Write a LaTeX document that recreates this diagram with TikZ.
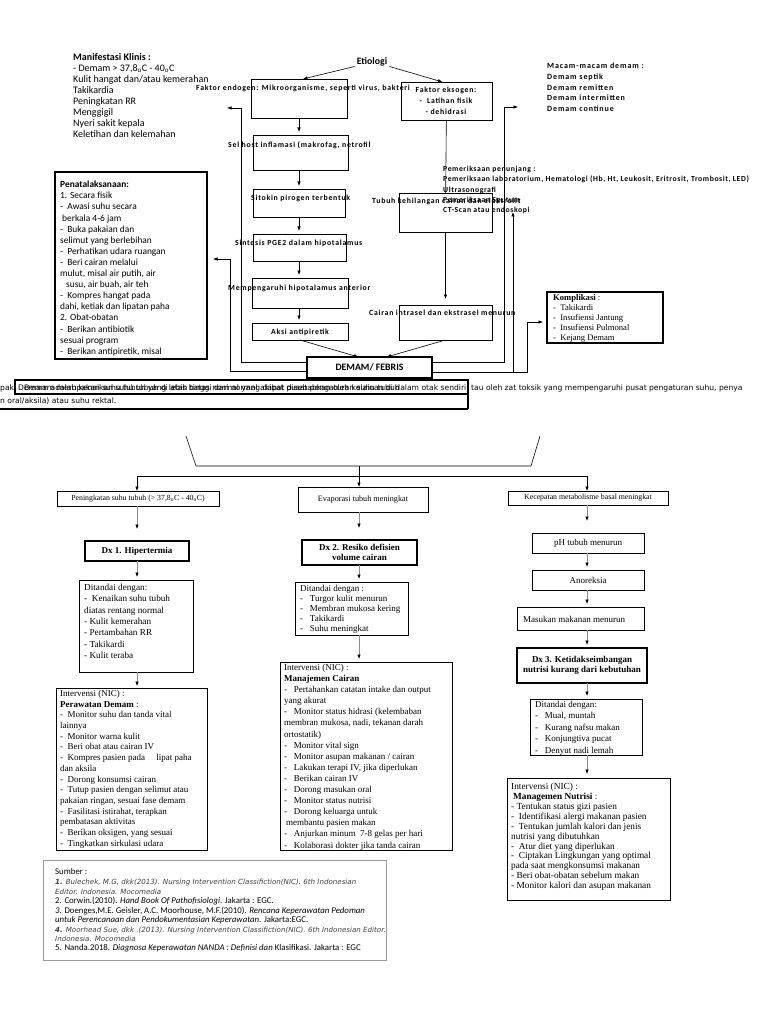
\documentclass[tikz,border=0pt]{standalone}
\usepackage{fontspec}
\setmainfont{Liberation Serif}
\newfontfamily\carl{Carlito}
\newfontfamily\carlsp{Carlito}[LetterSpace=9.5]
\newfontfamily\carlmc{Carlito}[LetterSpace=11]
\newfontfamily\carlpm{Carlito}[LetterSpace=7.5]
\newfontfamily\dvs{DejaVu Sans}
\usetikzlibrary{arrows.meta}
\tikzset{
  bx/.style={draw, line width=0.8pt, inner sep=0pt, outer sep=0pt},
  bxk/.style={draw, line width=1.8pt, inner sep=0pt, outer sep=0pt},
  lbl/.style={inner sep=0pt, anchor=west, font=\carlsp\bfseries\fontsize{7.8}{9}\selectfont},
  txt/.style={inner sep=0pt, anchor=north west, align=left},
  ln/.style={line width=0.6pt},
  arr/.style={line width=0.6pt, -{Latex[length=4.5pt,width=3.5pt]}},
  garr/.style={draw=black!45, line width=0.6pt, -{Latex[length=4.5pt,width=3.5pt,color=black]}},
  gln/.style={draw=black!45, line width=0.6pt},
  bl/.style={inner sep=0pt, anchor=base west},
}
\newcommand\bxr[7][bx]{\node[#1, minimum width={(#5-#3)*1pt}, minimum height={(#6-#4)*1pt}] (#2) at ({(#3+#5)/2},{(#4+#6)/2}) {#7};}
\newcommand\ind[1]{\hspace*{#1pt}}
\begin{document}
\begin{tikzpicture}[x=1pt,y=-1pt]
\useasboundingbox (0,0) rectangle (768,1024);
\fill[white] (0,0) rectangle (768,1024);

% ---------- top left
\node[txt, font=\carl\fontsize{10}{11}\selectfont] (manif) at (73,53) {\textbf{Manifestasi Klinis :}\\- Demam > 37,8\textsubscript{o}C - 40\textsubscript{o}C\\Kulit hangat dan/atau kemerahan\\Takikardia\\Peningkatan RR\\Menggigil\\Nyeri sakit kepala\\Keletihan dan kelemahan};

\node[inner sep=0pt, font=\carl\bfseries\fontsize{9.8}{11}\selectfont] (etio) at (372,62) {Etiologi};

\bxr{endo}{251}{79}{347}{118}{}
\node[lbl] (endoL) at (196,88) {Faktor endogen: Mikroorganisme, seperti virus, bakteri};
\bxr{ekso}{401}{82}{492}{120}{}
\node[lbl, anchor=center, align=center, font=\carlsp\bfseries\fontsize{7.8}{11}\selectfont] (eksoL) at (446,101) {Faktor eksogen:\\-\ \ Latihan fisik\\- dehidrasi};
\draw[arr] ([xshift=-2pt]etio.south west) -- ([xshift=4pt]endo.north);
\draw[arr] ([xshift=2pt]etio.south east) -- ([xshift=-4pt]ekso.north);

% chain
\bxr{b2}{253}{135}{348}{170}{}
\node[lbl] (b2L) at (228,145) {Sel host inflamasi (makrofag, netrofil};
\bxr{b3}{253}{189}{345}{217}{}
\node[lbl] (b3L) at (251,198) {Sitokin pirogen terbentuk};
\bxr{b4}{253}{234}{346}{261}{}
\node[lbl] (b4L) at (235,243) {Sintesis PGE2 dalam hipotalamus};
\bxr{b5}{252}{278}{348}{308}{}
\node[lbl] (b5L) at (228,288) {Mempengaruhi hipotalamus anterior};
\bxr{b6}{252}{323}{348}{340}{}
\node[lbl, anchor=center] (b6L) at (300,332) {Aksi antipiretik};
\coordinate (cx) at (299,0);
\draw[arr, shorten >=3pt] (endo.south -| cx) -- (b2.north -| cx);
\draw[arr, shorten >=3pt] (b2.south -| cx) -- (b3.north -| cx);
\draw[arr, shorten >=3pt] (b3.south -| cx) -- (b4.north -| cx);
\draw[arr, shorten >=3pt] (b4.south -| cx) -- (b5.north -| cx);
\draw[arr, shorten >=3pt] (b5.south -| cx) -- (b6.north -| cx);

\bxr[bxk, font=\carl\bfseries\fontsize{9.8}{11}\selectfont]{demam}{307}{357}{432}{378}{DEMAM/ FEBRIS}

\bxr{tubuh}{399}{193}{492}{232}{}
\bxr{cairan}{399}{305}{492}{340}{}
\draw[ln] (ekso) -- (tubuh);
\draw[arr, shorten >=6pt] (tubuh) -- (cairan);
\node[lbl] (tubuhL) at (372,201) {Tubuh kehilangan cairan dan elektrolit};
\node[lbl] (cairanL) at (369,313) {Cairan intrasel dan ekstrasel menurun};
\draw[arr] (b6.south) -- ([xshift=-11pt]demam.north);
\draw[arr] (cairan.south) -- ([xshift=17pt]demam.north);

% penatalaksanaan
\bxr[bxk]{pen}{55}{172}{207}{359}{}
\node[txt, font=\carl\fontsize{9.4}{11.1}\selectfont] (penT) at (60,181) {\textbf{Penatalaksanaan:}\\1. Secara fisik\\-\ \ Awasi suhu secara\\\ind{2}berkala 4-6 jam\\-\ \ Buka pakaian dan\\selimut yang berlebihan\\-\ \ Perhatikan udara ruangan\\-\ \ Beri cairan melalui\\mulut, misal air putih, air\\\ind{6}susu, air buah, air teh\\-\ \ Kompres hangat pada\\dahi, ketiak dan lipatan paha\\2. Obat-obatan\\-\ \ Berikan antibiotik\\sesuai program\\-\ \ Berikan antipiretik, misal};

% macam & pemeriksaan
\node[txt, font=\carlmc\bfseries\fontsize{8}{10.6}\selectfont] (macam) at (547,63) {Macam-macam demam :\\Demam septik\\Demam remitten\\Demam intermitten\\Demam continue};
\node[txt, font=\carlpm\bfseries\fontsize{7.7}{10.2}\selectfont] (pem) at (443,166) {Pemeriksaan penunjang :\\Pemeriksaan laboratorium, Hematologi (Hb, Ht, Leukosit, Eritrosit, Trombosit, LED)\\Ultrasonografi\\Pemeriksaan Sputum\\CT-Scan atau endoskopi};

% komplikasi
\bxr[bx, line width=1.2pt]{komp}{547}{292}{663}{343}{}
\node[txt, font=\fontsize{8.6}{9.9}\selectfont] (kompT) at (553,294.5) {\textbf{Komplikasi} :\\-\ \ Takikardi\\-\ \ Insufiensi Jantung\\-\ \ Insufiensi Pulmonal\\-\ \ Kejang Demam};

% loops
\coordinate (aMk) at (227,108);
\coordinate (aPen) at (213,259);
\coordinate (aMac) at (518,107);
\coordinate (aKom) at (543,322);
\coordinate (aPem) at (513,212);
\coordinate (dE2) at ([yshift=-5pt]demam.east);
\draw[arr] ([yshift=5pt]demam.west) -| (241,108) -- (aMk);
\draw[arr] ([yshift=-4pt]demam.west) -| (230,259) -- (aPen);
\draw[arr] ([yshift=5pt]demam.east) -| (504,107) -- (aMac);
\draw[arr] (dE2) -| (527,322) -- (aKom);
\draw[arr] (dE2 -| aPem) -- (aPem);

% ---------- band
\bxr[bx, line width=1.2pt]{band1}{15}{380}{468}{394}{}
\draw[line width=2.2pt] (0,409) -- (468,409);
\draw[line width=1.2pt] (band1.south east) -- (468,409);
\begin{scope}
\clip (16,381) rectangle (467,393);
\node[bl, font=\dvs\fontsize{7.6}{9}\selectfont] (bandA) at (18,390) {Demam adalah kenaikan suhu tubuh di atas batas normal yang dapat disebabkan oleh kelainan di dalam otak sendiri};
\node[bl, font=\dvs\fontsize{7.6}{9}\selectfont] (bandB) at (24,390.5) {Demam merupakan suhu tubuh yang lebih tinggi dari normal akibat pusat pengaturan suhu tubuh};
\end{scope}
\node[bl, font=\dvs\fontsize{7.6}{9}\selectfont] (bandC) at (0,390) {pak};
\node[bl, font=\dvs\fontsize{7.6}{9}\selectfont] (bandD) at (471,390) {tau oleh zat toksik yang mempengaruhi pusat pengaturan suhu, penya};
\node[bl, font=\dvs\fontsize{7.6}{9}\selectfont] (bandE) at (0,403) {n oral/aksila) atau suhu rektal.};

% ---------- middle branch
\coordinate (bl1) at (186,436);
\coordinate (bl2) at (196,466);
\coordinate (br2) at (531,466);
\coordinate (br1) at (540,436);
\draw[ln] (bl1) -- (bl2) -- (br2) -- (br1);
\coordinate (cL) at (137,0);
\coordinate (cM) at (359,0);
\coordinate (cR) at (587,0);
\coordinate (barY) at (0,476);
\draw[ln] (bl2 -| cM) -- (barY -| cM);
\draw[ln] (barY -| cL) -- (barY -| cR);

\bxr[bx, font=\fontsize{7.8}{9}\selectfont]{p1}{57}{491}{219}{506}{Peningkatan suhu tubuh (> 37,8\textsubscript{o}C - 40\textsubscript{o}C)}
\bxr[bx, font=\fontsize{8.2}{9}\selectfont]{p2}{298}{487}{428}{512}{Evaporasi tubuh meningkat}
\bxr[bx, font=\fontsize{7.8}{9}\selectfont]{p3}{508}{491}{668}{505}{Kecepatan metabolisme basal meningkat}
\draw[arr] (barY -| cL) -- (p1.north -| cL);
\draw[arr] (barY -| cM) -- (p2.north -| cM);
\draw[arr] (barY -| cR) -- (p3.north -| cR);

% left column
\bxr[bxk, font=\fontsize{9}{10}\selectfont\bfseries]{d1}{85}{541}{189}{561}{Dx 1. Hipertermia}
\bxr{t1}{79}{580}{193}{672}{}
\bxr{i1}{56}{688}{207}{850}{}
\draw[garr, shorten >=12pt] (p1.south -| cL) -- (d1.north -| cL);
\draw[garr, shorten >=3pt] (d1.south -| cL) -- (t1.north -| cL);
\draw[garr, shorten >=2pt] (t1.south -| cL) -- (i1.north -| cL);
\node[txt, font=\fontsize{9.2}{11.3}\selectfont] (t1T) at (84,584) {Ditandai dengan:\\-\ \ Kenaikan suhu tubuh\\diatas rentang normal\\-\ Kulit kemerahan\\-\ Pertambahan RR\\-\ Takikardi\\-\ Kulit teraba};
\node[txt, font=\fontsize{9}{10.7}\selectfont] (i1T) at (60,690) {Intervensi (NIC) :\\\textbf{Perawatan Demam} :\\-\ \ Monitor suhu dan tanda vital\\lainnya\\-\ \ Monitor warna kulit\\-\ \ Beri obat atau cairan IV\\-\ \ Kompres pasien pada\ \ \ \ \ lipat paha\\dan aksila\\-\ \ Dorong konsumsi cairan\\-\ \ Tutup pasien dengan selimut atau\\pakaian ringan, sesuai fase demam\\-\ \ Fasilitasi istirahat, terapkan\\pembatasan aktivitas\\-\ \ Berikan oksigen, yang sesuai\\-\ \ Tingkatkan sirkulasi udara};

% middle column
\bxr[bxk, align=center, font=\fontsize{9}{10.5}\selectfont\bfseries]{d2}{302}{540}{417}{565}{Dx 2. Resiko defisien\\volume cairan}
\bxr{t2}{295}{582}{408}{635}{}
\bxr{i2}{280}{662}{452}{850}{}
\draw[garr, shorten >=12pt] (p2.south -| cM) -- (d2.north -| cM);
\draw[garr, shorten >=3pt] (d2.south -| cM) -- (t2.north -| cM);
\draw[garr, shorten >=3pt] (t2.south -| cM) -- (i2.north -| cM);
\node[txt, font=\fontsize{9}{10}\selectfont] (t2T) at (300,585) {Ditandai dengan :\\-\ \ \ Turgor kulit menurun\\-\ \ \ Membran mukosa kering\\-\ \ \ Takikardi\\-\ \ \ Suhu meningkat};
\node[txt, font=\fontsize{9}{11.1}\selectfont] (i2T) at (284,664) {Intervensi (NIC) :\\\textbf{Manajemen Cairan}\\-\ \ \ Pertahankan catatan intake dan output\\yang akurat\\-\ \ \ Monitor status hidrasi (kelembaban\\membran mukosa, nadi, tekanan darah\\ortostatik)\\-\ \ \ Monitor vital sign\\-\ \ \ Monitor asupan makanan / cairan\\-\ \ \ Lakukan terapi IV, jika diperlukan\\-\ \ \ Berikan cairan IV\\-\ \ \ Dorong masukan oral\\-\ \ \ Monitor status nutrisi\\-\ \ \ Dorong keluarga untuk\\\ind{2}membantu pasien makan\\-\ \ \ Anjurkan minum\ \ 7-8 gelas per hari\\-\ \ \ Kolaborasi dokter jika tanda cairan};

% right column
\bxr[bx, font=\fontsize{9}{10}\selectfont]{r1}{532}{533}{644}{553}{pH tubuh menurun}
\bxr[bx, font=\fontsize{9}{10}\selectfont]{r2}{532}{570}{644}{590}{Anoreksia}
\bxr{r3}{517}{607}{644}{630}{}
\node[bl, font=\fontsize{9}{10}\selectfont] (r3T) at (523,622) {Masukan makanan menurun};
\bxr[bxk, align=center, font=\fontsize{9}{10.5}\selectfont\bfseries]{d3}{517}{648}{647}{683}{Dx 3. Ketidakseimbangan\\nutrisi kurang dari kebutuhan}
\bxr{t3}{530}{699}{642}{755}{}
\bxr{i3}{507}{778}{670}{900}{}
\draw[garr, shorten >=12pt] (p3.south -| cR) -- (r1.north -| cR);
\draw[garr, shorten >=3pt] (r1.south -| cR) -- (r2.north -| cR);
\draw[garr, shorten >=3pt] (r2.south -| cR) -- (r3.north -| cR);
\draw[garr, shorten >=3pt] (r3.south -| cR) -- (d3.north -| cR);
\draw[garr, shorten >=3pt] (d3.south -| cR) -- (t3.north -| cR);
\draw[garr, shorten >=4pt] (t3.south -| cR) -- (i3.north -| cR);
\node[txt, font=\fontsize{9}{11.5}\selectfont] (t3T) at (535,701) {Ditandai dengan:\\-\ \ \ Mual, muntah\\-\ \ \ Kurang nafsu makan\\-\ \ \ Konjungtiva pucat\\-\ \ \ Denyut nadi lemah};
\node[txt, font=\fontsize{9.3}{9.9}\selectfont] (i3T) at (511,783) {Intervensi (NIC) :\\\ind{2}\textbf{Managemen Nutrisi} :\\- Tentukan status gizi pasien\\-\ \ Identifikasi alergi makanan pasien\\-\ \ Tentukan jumlah kalori dan jenis\\nutrisi yang dibutuhkan\\-\ \ Atur diet yang diperlukan\\-\ \ Ciptakan Lingkungan yang optimal\\pada saat mengkonsumsi makanan\\- Beri obat-obatan sebelum makan\\- Monitor kalori dan asupan makanan};

% ---------- sumber
\bxr[draw=black!40, line width=0.6pt, inner sep=0pt]{src}{43}{860}{386}{960}{}
\begin{scope}
\clip (44,861) rectangle (385,959);
\node[bl, font=\carl\fontsize{8.8}{9}\selectfont] (s0) at (55,874) {Sumber :};
\node[bl, font=\dvs\itshape\fontsize{7.1}{9}\selectfont, text=black!75] (s1) at (55,884) {\textbf{1.} Bulechek, M.G, dkk(2013). Nursing Intervention Classifiction(NIC). 6th Indonesian};
\node[bl, font=\dvs\itshape\fontsize{7.1}{9}\selectfont, text=black!75] (s1b) at (55,894) {Editor. Indonesia. Mocomedia};
\node[bl, font=\carl\fontsize{8.8}{9}\selectfont] (s2) at (55,903) {2. Corwin.(2010). \textit{Hand Book Of Pathofisiologi}. Jakarta : EGC.};
\node[bl, font=\carl\fontsize{8.8}{9}\selectfont] (s3) at (55,913) {\textit{3.} Doenges,M.E. Geisler, A.C. Moorhouse, M.F.(2010). \textit{Rencana Keperawatan Pedoman}};
\node[bl, font=\carl\fontsize{8.8}{9}\selectfont] (s3b) at (55,922) {\textit{untuk Perencanaan dan Pendokumentasian Keperawatan}. Jakarta:EGC.};
\node[bl, font=\dvs\itshape\fontsize{7.1}{9}\selectfont, text=black!75] (s4) at (55,932) {\textbf{4.} Moorhead Sue, dkk .(2013). Nursing Intervention Classifiction(NIC). 6th Indonesian Editor.};
\node[bl, font=\dvs\itshape\fontsize{7.1}{9}\selectfont, text=black!75] (s4b) at (55,941) {Indonesia. Mocomedia};
\node[bl, font=\carl\fontsize{8.8}{9}\selectfont] (s5) at (55,950) {5. Nanda.2018. \textit{Diagnosa Keperawatan NANDA : Definisi dan} Klasifikasi. Jakarta : EGC};
\end{scope}
\end{tikzpicture}
\end{document}
